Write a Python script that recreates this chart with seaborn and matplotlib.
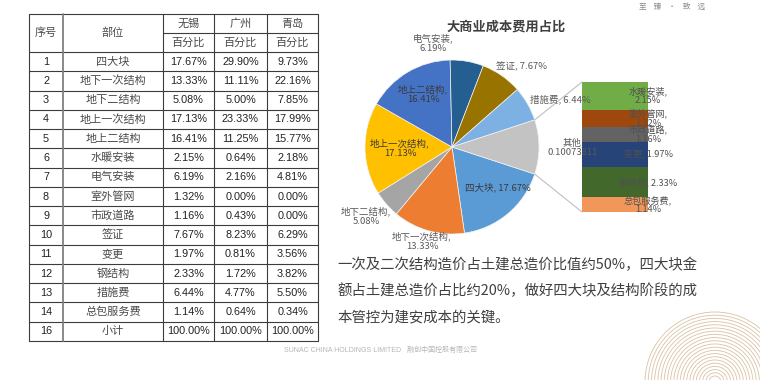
import matplotlib
matplotlib.use("Agg")
import numpy as np
import matplotlib.pyplot as plt
import seaborn as sns
from matplotlib.patches import ConnectionPatch, Circle

# table data
cities = ["无锡", "广州", "青岛"]
row_no = ["1", "2", "3", "4", "5", "6", "7", "8", "9", "10", "11", "12", "13", "14", "16"]
items = ["四大块", "地下一次结构", "地下二结构", "地上一次结构", "地上二结构", "水暖安装", "电气安装",
         "室外管网", "市政道路", "签证", "变更", "钢结构", "措施费", "总包服务费", "小计"]
wuxi = [17.67, 13.33, 5.08, 17.13, 16.41, 2.15, 6.19, 1.32, 1.16, 7.67, 1.97, 2.33, 6.44, 1.14, 100.00]
guangzhou = [29.90, 11.11, 5.00, 23.33, 11.25, 0.64, 2.16, 0.00, 0.43, 8.23, 0.81, 1.72, 4.77, 0.64, 100.00]
qingdao = [9.73, 22.16, 7.85, 17.99, 15.77, 2.18, 4.81, 0.00, 0.00, 6.29, 3.56, 3.82, 5.50, 0.34, 100.00]

# pie-of-bar data (无锡)
pie_labels = ["四大块", "地下一次结构", "地下二结构", "地上一次结构", "地上二结构", "电气安装", "签证", "措施费", "其他"]
pie_values = [17.67, 13.33, 5.08, 17.13, 16.41, 6.19, 7.67, 6.44, 10.07]
other_text = "0.10073811"
bar_labels = ["水暖安装", "室外管网", "市政道路", "变更", "钢结构", "总包服务费"]
bar_values = [2.15, 1.32, 1.16, 1.97, 2.33, 1.14]

pie_colors = ["#5B9BD5", "#ED7D31", "#A5A5A5", "#FFC000", "#4472C4", "#255E91", "#997300", "#7EB1E3", "#C3C3C3"]
bar_colors = ["#70AD47", "#9E480E", "#636363", "#264478", "#43682B", "#F1975A"]

sns.set_theme(style="white")
plt.rcParams["font.family"] = ["Noto Sans CJK SC", "DejaVu Sans"]
NUM_FONT = ["Liberation Sans", "Noto Sans CJK SC"]

fig = plt.figure(figsize=(7.6, 3.8), dpi=100)
fig.patch.set_facecolor("white")

# full-page canvas in pixel units
canvas = fig.add_axes([0, 0, 1, 1])
canvas.set_xlim(0, 760)
canvas.set_ylim(380, 0)
canvas.axis("off")

# decoration: concentric rings bottom right
for r in np.arange(6, 72, 3.2):
    canvas.add_patch(Circle((715, 382), r, fill=False, ec="#D9C2A5", lw=0.6))

# header / footer
canvas.text(672, 7, "至    臻    ·    致    远", ha="center", va="center", fontsize=5.5, color="#8A8A8A")
canvas.text(381, 350, "SUNAC CHINA HOLDINGS LIMITED   融创中国控股有限公司", ha="center", va="center",
            fontsize=5, color="#B5B5B5", family=NUM_FONT)

# ---- table ----
col_x = [29, 63, 163, 214, 267, 318]
top, h1, h2 = 14, 33, 52
row_h = (341 - h2) / len(items)
row_y = [h2 + i * row_h for i in range(len(items) + 1)]
line_c = "#3C3C3C"
for y in [top, h2] + row_y[1:]:
    canvas.plot([col_x[0], col_x[-1]], [y, y], color=line_c, lw=0.8)
canvas.plot([col_x[2], col_x[-1]], [h1, h1], color=line_c, lw=0.8)
for i, x in enumerate(col_x):
    canvas.plot([x, x], [top, row_y[-1]], color="#808080" if i == 1 else line_c, lw=1.3 if i == 1 else 0.8)

txt_c = "#4A4A4A"
canvas.text((col_x[0] + col_x[1]) / 2, (top + h2) / 2, "序号", ha="center", va="center", fontsize=8, color=txt_c)
canvas.text((col_x[1] + col_x[2]) / 2, (top + h2) / 2, "部位", ha="center", va="center", fontsize=8, color=txt_c)
for j, city in enumerate(cities):
    cx = (col_x[2 + j] + col_x[3 + j]) / 2
    canvas.text(cx, (top + h1) / 2, city, ha="center", va="center", fontsize=8, color=txt_c)
    canvas.text(cx, (h1 + h2) / 2, "百分比", ha="center", va="center", fontsize=8, color=txt_c)

for i in range(len(items)):
    cy = (row_y[i] + row_y[i + 1]) / 2
    canvas.text((col_x[0] + col_x[1]) / 2, cy, row_no[i], ha="center", va="center",
                fontsize=7.8, color="#222222", family=NUM_FONT)
    canvas.text((col_x[1] + col_x[2]) / 2, cy, items[i], ha="center", va="center", fontsize=8, color=txt_c)
    for j, col in enumerate([wuxi, guangzhou, qingdao]):
        cx = (col_x[2 + j] + col_x[3 + j]) / 2
        canvas.text(cx, cy, f"{col[i]:.2f}%", ha="center", va="center",
                    fontsize=7.8, color="#222222", family=NUM_FONT)

# ---- pie of bar ----
canvas.text(506, 27, "大商业成本费用占比", ha="center", va="center", fontsize=9.5,
            fontweight="bold", color="#404040")

cx, cy, rad = 452, 147, 87
ax_pie = fig.add_axes([(cx - rad) / 760, 1 - (cy + rad) / 380, 2 * rad / 760, 2 * rad / 380])
start = -pie_values[-1] / sum(pie_values) * 360 / 2
wedges, _ = ax_pie.pie(pie_values, colors=pie_colors, startangle=start, counterclock=False,
                       radius=1, wedgeprops=dict(edgecolor="#F2F2F2", linewidth=0.5))
ax_pie.set_xlim(-1, 1)
ax_pie.set_ylim(-1, 1)
ax_pie.axis("off")

bx0, bx1, by0, by1 = 582, 648, 82, 212
ax_bar = fig.add_axes([bx0 / 760, 1 - by1 / 380, (bx1 - bx0) / 760, (by1 - by0) / 380])
total = sum(bar_values)
bottoms = np.concatenate([[0], np.cumsum(bar_values)[:-1]])
ax_bar.bar(0, bar_values, bottom=bottoms, width=1, color=bar_colors, edgecolor="none")
ax_bar.set_xlim(-0.5, 0.5)
ax_bar.set_ylim(total, 0)
ax_bar.axis("off")

one_line = {"变更", "钢结构"}
for name, val, b in zip(bar_labels, bar_values, bottoms):
    s = f"{name}, {val:.2f}%" if name in one_line else f"{name},\n{val:.2f}%"
    ax_bar.text(0.5, b + val / 2, s, ha="center", va="center", fontsize=6.6,
                color="#505050", linespacing=1.0, clip_on=False)

# pie labels (pixel centres, one- or two-line), drawn above both axes
pie_label_pos = {
    "四大块": (498, 187, False, "#3A3A3A"),
    "地下一次结构": (422, 241, True, "#595959"),
    "地下二结构": (366, 216, True, "#595959"),
    "地上一次结构": (400, 148, True, "#3A3A3A"),
    "地上二结构": (423, 94, True, "#3A3A3A"),
    "电气安装": (433, 43, True, "#595959"),
    "签证": (521, 67, False, "#595959"),
    "措施费": (560, 99, False, "#595959"),
    "其他": (573, 147, True, "#595959"),
}
for name, val in zip(pie_labels, pie_values):
    px, py, two, col = pie_label_pos[name]
    num = other_text if name == "其他" else f"{val:.2f}%"
    s = f"{name},\n{num}" if two else f"{name}, {num}"
    fig.text(px, py, s, transform=canvas.transData, ha="center", va="center",
             fontsize=6.8, color=col, linespacing=1.1)

# connector lines from "其他" wedge to the bar
w = wedges[-1]
angs = sorted([w.theta1, w.theta2], key=lambda a: np.sin(np.radians(a)))
for a, yb in zip(angs, [total, 0]):
    con = ConnectionPatch(xyA=(np.cos(np.radians(a)), np.sin(np.radians(a))), coordsA=ax_pie.transData,
                          xyB=(-0.5, yb), coordsB=ax_bar.transData, color="#BFBFBF", lw=0.8)
    fig.add_artist(con)

# ---- note text ----
note = ["一次及二次结构造价占土建总造价比值约50%，四大块金",
        "额占土建总造价占比约20%，做好四大块及结构阶段的成",
        "本管控为建安成本的关键。"]
for k, line in enumerate(note):
    canvas.text(337, 265 + k * 26, line, ha="left", va="center", fontsize=10.4, color="#404040")

fig.savefig("out.png", dpi=100)
